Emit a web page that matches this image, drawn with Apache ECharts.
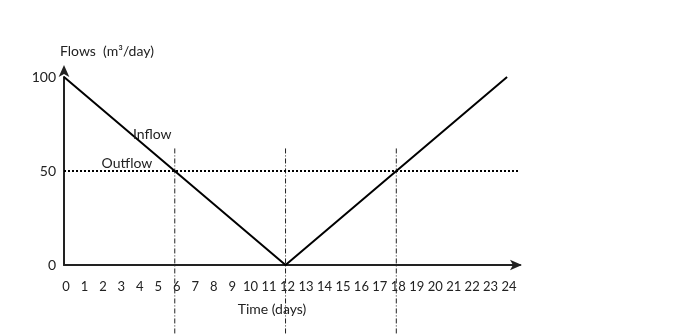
<!DOCTYPE html>
<html><head><meta charset="utf-8">
<script src="https://cdn.jsdelivr.net/npm/echarts@6/dist/echarts.min.js"></script>
<style>html,body{margin:0;padding:0;background:#fff}#c{width:675px;height:335px}</style>
</head><body><div id="c"></div>
<script>
var days = [0,1,2,3,4,5,6,7,8,9,10,11,12,13,14,15,16,17,18,19,20,21,22,23,24];
var inflowPoints = [[0,100],[12,0],[24,100]];
var outflowPoints = [[0,50],[24.7,50]];
var guideDays = [6,12,18];
var guideRange = [62,-37];
var yTicks = [0,50,100];

var chart = echarts.init(document.getElementById('c'));
var font = 'Lato, "Open Sans", sans-serif';
var guides = guideDays.map(function(d){
  return {type:'line', data:[[d,guideRange[0]],[d,guideRange[1]]], symbol:'none', clip:false, silent:true,
    lineStyle:{color:'#222', width:1, type:[5,2,1,2]}, z:1};
});
chart.setOption({
  animation:false,
  grid:{left:64, right:155, top:77, bottom:70},
  xAxis:{type:'value', min:0, max:24.7, interval:1,
    name:'Time (days)', nameLocation:'middle', nameGap:37,
    nameTextStyle:{fontFamily:font, fontSize:14, color:'#222', padding:[0,40,0,0]},
    axisLine:{show:true, lineStyle:{color:'#222', width:2}, symbol:['none','arrow'], symbolSize:[8,12], symbolOffset:[0,2]},
    axisTick:{show:false}, splitLine:{show:false},
    axisLabel:{fontFamily:font, fontSize:13, color:'#222', margin:15, showMaxLabel:false, padding:[0,0,0,4],
      formatter:function(v){return days.indexOf(v)>=0 ? String(v) : '';}}
  },
  yAxis:{type:'value', min:0, max:100, interval:50,
    name:'Flows  (m³/day)', nameLocation:'end', nameGap:19,
    nameTextStyle:{fontFamily:font, fontSize:14, color:'#222', align:'left', padding:[0,0,0,-4]},
    axisLine:{show:true, lineStyle:{color:'#222', width:2}, symbol:['none','arrow'], symbolSize:[8,12], symbolOffset:[0,12]},
    axisTick:{show:false}, splitLine:{show:false},
    axisLabel:{fontFamily:font, fontSize:14, color:'#222', margin:8,
      formatter:function(v){return yTicks.indexOf(v)>=0 ? String(v) : '';}}
  },
  series:guides.concat([
    {type:'line', name:'Inflow', data:inflowPoints, symbol:'none', clip:false,
      lineStyle:{color:'#000', width:2}, z:3,
      markPoint:{symbol:'circle', symbolSize:0, silent:true,
        label:{show:true, formatter:'Inflow', fontFamily:font, fontSize:14, color:'#222', position:'right', offset:[-8,0]},
        data:[{coord:[3.9,69.2]}]}},
    {type:'line', name:'Outflow', data:outflowPoints, symbol:'none', clip:false,
      lineStyle:{color:'#000', width:2, type:'dotted'}, z:2,
      markPoint:{symbol:'circle', symbolSize:0, silent:true,
        label:{show:true, formatter:'Outflow', fontFamily:font, fontSize:14, color:'#222', position:'right', offset:[-8,0]},
        data:[{coord:[2.2,53.8]}]}}
  ])
});
</script></body></html>
